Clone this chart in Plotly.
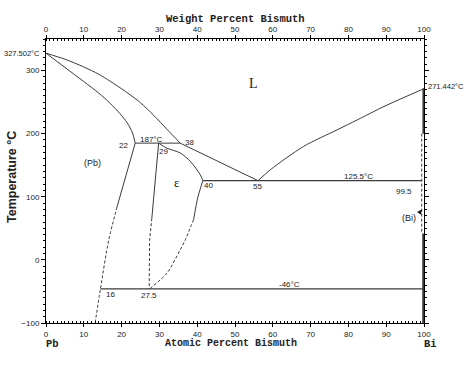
import plotly.graph_objects as go

# ---- data (atomic percent Bi, temperature degC) ----
liq_pb_x = [0, 5, 9.9, 14, 17, 21, 25, 28.5, 32, 35.5]
liq_pb_t = [327.5, 318, 306, 294, 283, 267, 249, 229, 207, 185]
liq_pb_str_x = [35.5, 56.1]
liq_pb_str_t = [185, 125.5]

sol_pb_x = [0, 5, 9.9, 14, 17, 19.5, 21.5, 22.9, 23.6]
sol_pb_t = [327.5, 305, 283, 264, 248, 232, 217, 201, 185]

solv_pb_x = [23.6, 18.8]
solv_pb_t = [185, 84]
solv_pb_dash_x = [18.8, 16.6, 14.4, 13.0]
solv_pb_dash_t = [84, 31.6, -46, -100]

eps_left_x = [29.8, 28.0]
eps_left_t = [185, 66]
eps_left_dash_x = [28.0, 27.4, 27.3]
eps_left_dash_t = [66, 31, -46]

eps_right_x = [29.8, 32, 35.5, 38.2, 40.8, 41.5]
eps_right_t = [185, 177, 169.5, 156, 135, 125.5]
eps_right_low_x = [41.5, 40.2, 39.05]
eps_right_low_t = [125.5, 100, 64]
eps_right_dash_x = [39.05, 36.85, 35.5, 32, 27.4]
eps_right_dash_t = [64, 31.6, 16, -21, -46]

liq_bi_x = [56.1, 59.4, 68.2, 77, 82.4, 89.4, 100]
liq_bi_t = [125.5, 143, 180, 206, 222, 243, 271.4]

perit_x = [23.6, 35.5]
perit_t = [185, 185]
eut_x = [41.5, 99.4]
eut_t = [125.5, 125.5]
low_x = [14.4, 100]
low_t = [-46, -46]

bi_sol_x = [99.85, 99.85]
bi_sol_t = [271.4, 200]
bi_dash_x = [99.4, 99.4]
bi_dash_t = [200, 42]
bi_low_x = [99.8, 99.8]
bi_low_t = [42, -100]

x_ticks = list(range(0, 101, 10))
y_ticks = [-100, 0, 100, 200, 300]

LC = "#3a3a3a"
DASH = "3px,2px"
fig = go.Figure()

def line(x, y, dash="solid", width=1, smooth=False):
    fig.add_trace(go.Scatter(x=x, y=y, mode="lines", hoverinfo="skip",
                             line=dict(color=LC, width=width, dash=dash,
                                       shape="spline" if smooth else "linear",
                                       **({"smoothing": 0.8} if smooth else {})),
                             showlegend=False))

line(liq_pb_x, liq_pb_t, smooth=True)
line(liq_pb_str_x, liq_pb_str_t)
line(sol_pb_x, sol_pb_t, smooth=True)
line(solv_pb_x, solv_pb_t)
line(solv_pb_dash_x, solv_pb_dash_t, dash=DASH, smooth=True)
line(eps_left_x, eps_left_t)
line(eps_left_dash_x, eps_left_dash_t, dash=DASH)
line(eps_right_x, eps_right_t, smooth=True)
line(eps_right_low_x, eps_right_low_t, smooth=True)
line(eps_right_dash_x, eps_right_dash_t, dash=DASH, smooth=True)
line(liq_bi_x, liq_bi_t, smooth=True)
line(perit_x, perit_t)
line(eut_x, eut_t, width=1.3)
line(low_x, low_t, width=1.3)
line(bi_sol_x, bi_sol_t, width=2)
line(bi_dash_x, bi_dash_t, dash=DASH)
line(bi_low_x, bi_low_t, width=2)

# invisible trace for top axis
fig.add_trace(go.Scatter(x=[0, 100], y=[0, 0], xaxis="x2", mode="lines",
                         line=dict(width=0), opacity=0, hoverinfo="skip", showlegend=False))

TF = dict(family="Liberation Sans", size=8, color="#222")
ax_common = dict(range=[0, 100], tickvals=x_ticks, showline=True, linecolor="black", linewidth=1,
                 ticks="outside", ticklen=3, tickcolor="black", showgrid=False, zeroline=False,
                 tickfont=TF,
                 minor=dict(dtick=1, ticks="inside", ticklen=2, tickcolor="black", showgrid=False))
fig.update_layout(
    width=474, height=372,
    margin=dict(l=46, r=50, t=39, b=49),
    paper_bgcolor="white", plot_bgcolor="white",
    xaxis=dict(**ax_common),
    xaxis2=dict(**ax_common, overlaying="x", side="top", matches="x"),
    yaxis=dict(range=[-100, 350], tickvals=y_ticks, showline=True, linecolor="black", linewidth=1,
               ticks="outside", ticklen=4, tickcolor="black", showgrid=False, zeroline=False,
               mirror="ticks", tickfont=TF,
               minor=dict(dtick=10, ticks="outside", ticklen=2, tickcolor="black", showgrid=False)),
)

def ann(text, x, y, size=8, xanchor="center", family="Liberation Sans", xref="x", yref="y", **kw):
    fig.add_annotation(text=text, x=x, y=y, xref=xref, yref=yref, showarrow=False,
                       xanchor=xanchor, yanchor="middle",
                       font=dict(family=family, size=size, color="#222"), **kw)

def px(p):
    return (p - 46) / 378

def py(p):
    return (323 - p) / 284

ann("327.502°C", px(42), 327.5, size=7.5, xanchor="right", xref="paper")
ann("271.442°C", px(426), 274, size=7.5, xanchor="left", xref="paper")
ann("L", 55, 280, size=14, family="Liberation Serif")
ann("(Pb)", 12.3, 154, size=9)
ann("ε", 34.6, 123, size=13, family="Liberation Serif")
ann("187°C", 28, 190, size=8)
ann("22", 22.3, 182, size=8, xanchor="right")
ann("29", 31, 171, size=8)
ann("38", 38, 186.5, size=8)
ann("40", 43, 118, size=8)
ann("55", 56, 117, size=8)
ann("125.5°C", 82.8, 131.5, size=8)
ann("99.5", 94.7, 109, size=8)
ann("(Bi)", 96, 66, size=9)
ann("16", 17, -55, size=8)
ann("27.5", 27.3, -57, size=8)
ann("-46°C", 64.3, -39.5, size=8)

MONO = "Liberation Mono"
ann("<b>Weight Percent Bismuth</b>", 0.5, py(19), size=10.5, family=MONO, xref="paper", yref="paper")
ann("<b>Atomic Percent Bismuth</b>", 0.49, py(343.5), size=10, family=MONO, xref="paper", yref="paper")
ann("<b>Pb</b>", px(52.5), py(344), size=10.5, family=MONO, xref="paper", yref="paper")
ann("<b>Bi</b>", px(430.5), py(344), size=10.5, family=MONO, xref="paper", yref="paper")
ann("<b>Temperature °C</b>", px(12), py(177), size=12.5, xref="paper", yref="paper", textangle=-90)

fig.add_annotation(x=99.4, y=80, ax=98.5, ay=72, xref="x", yref="y", axref="x", ayref="y",
                   showarrow=True, arrowhead=2, arrowsize=0.8, arrowwidth=1.2, arrowcolor="#111",
                   text="")

# remove the browser's default body margin so the figure sits at the window's corner
fig.write_html("out.html", config={"displayModeBar": False},
               post_script="document.body.style.margin='0px';")
